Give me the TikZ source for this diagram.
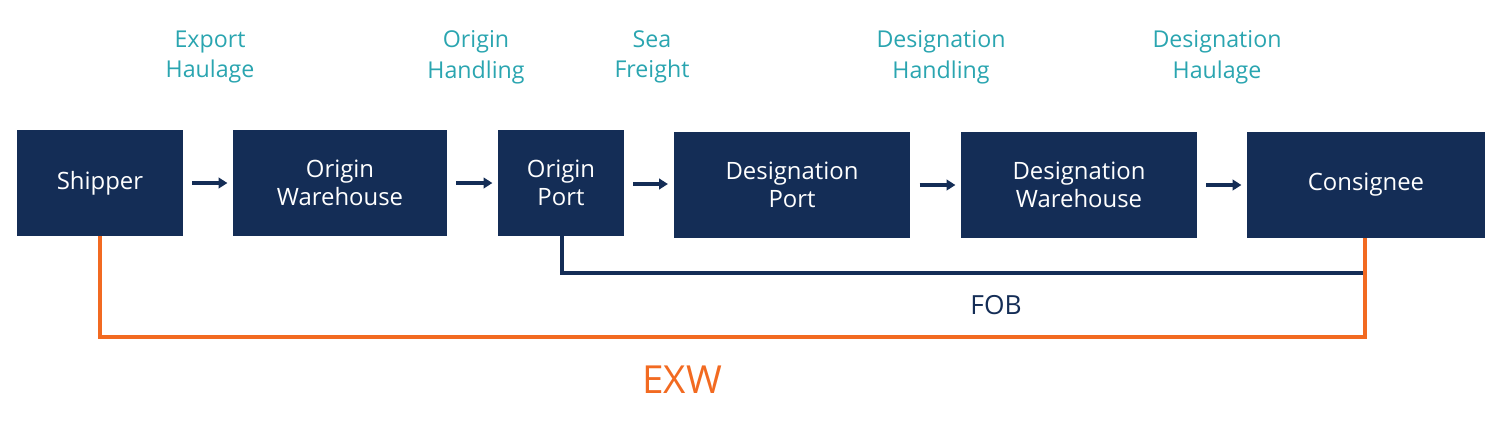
\documentclass[tikz,border=0pt]{standalone}
\usepackage{fontspec}
\setmainfont{Open Sans}
\usetikzlibrary{arrows.meta}
\definecolor{navy}{HTML}{142D56}
\definecolor{teal2}{HTML}{2AA5B0}
\definecolor{exworange}{HTML}{F26A21}
\tikzset{
  stage/.style={fill=navy, text=white, align=center, inner sep=0pt,
    font=\fontsize{13.6}{16}\selectfont},
  leg/.style={text=teal2, align=center, font=\fontsize{13.2}{17.5}\selectfont},
  flow/.style={-{Triangle[length=5pt,width=6pt]}, line width=2.2pt, navy},
}
\begin{document}
\begin{tikzpicture}[x=0.02cm, y=-0.02cm]
	\useasboundingbox (0,0) rectangle (1499,424);

	% stages
	\node[stage, minimum width=166\pgflinewidth*0+3.32cm, minimum height=2.12cm] (shipper) at (100,183) {Shipper};
	\node[stage, minimum width=4.28cm, minimum height=2.12cm] (owh) at (340,183) {Origin\\Warehouse};
	\node[stage, minimum width=2.52cm, minimum height=2.12cm] (oport) at (561,183) {Origin\\Port};
	\node[stage, minimum width=4.74cm, minimum height=2.12cm] (dport) at (792,185) {Designation\\Port};
	\node[stage, minimum width=4.72cm, minimum height=2.12cm] (dwh) at (1079,185) {Designation\\Warehouse};
	\node[stage, minimum width=4.76cm, minimum height=2.12cm] (consignee) at (1366,185) {Consignee};

	% arrows
	\draw[flow] ([xshift=5pt]shipper.east |- 0,183) -- ([xshift=-3pt]owh.west |- 0,183);
	\draw[flow] ([xshift=5pt]owh.east |- 0,183) -- ([xshift=-3pt]oport.west |- 0,183);
	\draw[flow] ([xshift=5pt]oport.east |- 0,184) -- ([xshift=-3pt]dport.west |- 0,184);
	\draw[flow] ([xshift=5pt]dport.east |- 0,185) -- ([xshift=-3pt]dwh.west |- 0,185);
	\draw[flow] ([xshift=5pt]dwh.east |- 0,185) -- ([xshift=-3pt]consignee.west |- 0,185);

	% legs
	\node[leg] (haul1) at (210,57) {Export\\Haulage};
	\node[leg] (hand1) at (476,57) {Origin\\Handling};
	\node[leg] (sea) at (652,57) {Sea\\Freight};
	\node[leg] (hand2) at (941,57) {Designation\\Handling};
	\node[leg] (haul2) at (1217,57) {Designation\\Haulage};

	% terms
	\coordinate (fobL) at (562,273);
	\coordinate (fobR) at (1365,273);
	\draw[navy, line width=2.6pt] (oport.south -| fobL) -- (fobL) -- (fobR) -- (consignee.south -| fobR);
	\node[text=navy, font=\fontsize{15}{18}\selectfont] (fob) at (996,305) {FOB};

	\coordinate (exwL) at (100,337);
	\coordinate (exwR) at (1365,337);
	\draw[exworange, line width=2.6pt] (shipper.south) -- (exwL) -- (exwR) -- (consignee.south -| exwR);
	\node[text=exworange, font=\fontsize{22}{26}\selectfont] (exw) at (682,380) {EXW};
\end{tikzpicture}
\end{document}
